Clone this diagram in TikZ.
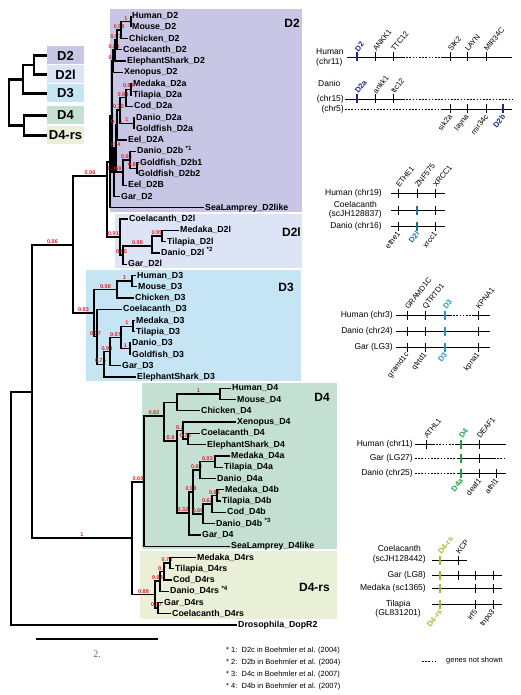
\documentclass[tikz,border=0pt]{standalone}
\usepackage{fontspec}
\setmainfont{Liberation Sans}
\newfontfamily\barfont{Liberation Serif}
\usepackage{tikz}
\usetikzlibrary{positioning, calc}
\definecolor{cladetwo}{RGB}{201,197,228}
\definecolor{cladetwol}{RGB}{221,228,245}
\definecolor{cladethree}{RGB}{197,229,245}
\definecolor{cladefour}{RGB}{196,224,211}
\definecolor{cladefourrs}{RGB}{233,240,215}
\definecolor{supred}{RGB}{228,35,45}
\definecolor{genetwo}{RGB}{30,40,140}
\definecolor{genetwol}{RGB}{25,115,150}
\definecolor{genethree}{RGB}{35,150,205}
\definecolor{genefour}{RGB}{35,160,70}
\definecolor{genefourrs}{RGB}{150,195,45}
\newcommand{\gtick}[3][tk]{\draw[#1] (#2,#3) ++(0,-4.5) -- ++(0,9)}

\begin{document}
\begin{tikzpicture}[x=1pt, y=-1pt,
  every node/.style={font=\fontsize{7.5}{9}\selectfont},
  br/.style={line width=1.3pt},
  leaf/.style={anchor=west, inner sep=1pt, text height=6.4pt, text depth=1.2pt,
              font=\fontsize{8.8}{10}\selectfont\bfseries},
  bs/.style={pos=0.75, above, inner sep=0.6pt, text=supred,
              font=\fontsize{5.5}{6}\selectfont\bfseries},
  cladelab/.style={anchor=east, inner sep=0pt, font=\fontsize{12}{13}\selectfont\bfseries},
  ibox/.style={minimum width=37pt, minimum height=18pt, inner sep=0pt,
              font=\fontsize{13}{14}\selectfont\bfseries},
  ibr/.style={line width=2.2pt},
  chr/.style={line width=0.7pt},
  gap/.style={line width=0.7pt, dash pattern=on 1.6pt off 1.6pt},
  tk/.style={line width=0.6pt},
  hit/.style={line width=1.8pt},
  gtop/.style={rotate=52, anchor=west, inner sep=0.6pt, font=\fontsize{7.6}{8}\selectfont},
  gbot/.style={rotate=52, anchor=east, inner sep=0.6pt, font=\fontsize{7.6}{8}\selectfont},
  rowlab/.style={anchor=east, inner sep=1pt, align=center, font=\fontsize{8.5}{9.5}\selectfont},
  fn/.style={anchor=west, inner sep=0pt, font=\fontsize{7.5}{8}\selectfont},
]
\useasboundingbox (0,0) rectangle (520,695);

% clade boxes
\fill[cladetwo] (110,9) rectangle (302,212);
\fill[cladetwol] (115,213.5) rectangle (302,268);
\fill[cladethree] (86,270) rectangle (301,381);
\fill[cladefour] (142,383) rectangle (337,549);
\fill[cladefourrs] (140,551) rectangle (337,619);
\node[cladelab] at (300,23) {D2};
\node[cladelab] at (301,232) {D2l};
\node[cladelab] at (294,287) {D3};
\node[cladelab] at (330,397) {D4};
\node[cladelab] at (330,587) {D4-rs};

% inset tree of the groups
\node[ibox, fill=cladetwo] (iD2) at (65.5,55.5) {D2};
\node[ibox, fill=cladetwol] (iD2l) at (65.5,74.5) {D2l};
\node[ibox, fill=cladethree] (iD3) at (65.5,93.5) {D3};
\node[ibox, fill=cladefour] (iD4) at (65.5,115.5) {D4};
\node[ibox, fill=cladefourrs] (iD4rs) at (65.5,135.5) {D4-rs};
\coordinate (iB) at (34,65);
\coordinate (iA) at (23,79.5);
\coordinate (iC) at (24,125.5);
\coordinate (iroot) at (9,102.5);
\foreach \p/\c in {iroot/iA, iroot/iC, iA/iB, iA/iD3, iB/iD2, iB/iD2l, iC/iD4, iC/iD4rs}
  \draw[ibr] (\p) |- (\c);

% leaves
\foreach \nm/\txt/\lx [count=\i from 0] in {
  hD2/Human\_D2/131, mD2/Mouse\_D2/131, chD2/Chicken\_D2/128, coD2/Coelacanth\_D2/122,
  esD2/ElephantShark\_D2/126, xeD2/Xenopus\_D2/123, meD2a/Medaka\_D2a/132, tiD2a/Tilapia\_D2a/132,
  cdD2a/Cod\_D2a/133, daD2a/Danio\_D2a/135, goD2a/Goldfish\_D2a/135, eeD2A/Eel\_D2A/127,
  daD2b/Danio\_D2b \textsuperscript{*1}/136, goD2bi/Goldfish\_D2b1/139, goD2bii/Goldfish\_D2b2/137,
  eeD2B/Eel\_D2B/127, gaD2/Gar\_D2/120, slD2/SeaLamprey\_D2like/204,
  coD2l/Coelacanth\_D2l/128, meD2l/Medaka\_D2l/179, tiD2l/Tilapia\_D2l/166,
  daD2l/Danio\_D2l \textsuperscript{*2}/160, gaD2l/Gar\_D2l/127,
  hD3/Human\_D3/136, mD3/Mouse\_D3/137, chD3/Chicken\_D3/134, coD3/Coelacanth\_D3/122,
  meD3/Medaka\_D3/135, tiD3/Tilapia\_D3/135, daD3/Danio\_D3/131, goD3/Goldfish\_D3/131,
  gaD3/Gar\_D3/121, esD3/ElephantShark\_D3/136,
  hD4/Human\_D4/231, mD4/Mouse\_D4/236, chD4/Chicken\_D4/200, xeD4/Xenopus\_D4/236,
  coD4/Coelacanth\_D4/200, esD4/ElephantShark\_D4/206, meD4a/Medaka\_D4a/230, tiD4a/Tilapia\_D4a/223,
  daD4a/Danio\_D4a/216, meD4b/Medaka\_D4b/224, tiD4b/Tilapia\_D4b/221, cdD4b/Cod\_D4b/226,
  daD4b/Danio\_D4b \textsuperscript{*3}/215, gaD4/Gar\_D4/201, slD4/SeaLamprey\_D4like/230,
  meRS/Medaka\_D4rs/196, tiRS/Tilapia\_D4rs/174, cdRS/Cod\_D4rs/172,
  daRS/Danio\_D4rs \textsuperscript{*4}/169, gaRS/Gar\_D4rs/163, coRS/Coelacanth\_D4rs/171,
  dros/Drosophila\_DopR2/237}
  \node[leaf] (\nm) at (\lx,{16+11.28*\i}) {\txt};

% inner nodes
\foreach \nm/\nx/\ny in {
  nroot/11/508, nmain/32/392, ndd/73/245, ntwoall/107/176, ntwo/110/162, ntwog/112/116,
  na1/131/21.7, na2/121/30, na3/117/40, na4/115/50, na5/113/61,
  nb1/131/89.3, nb2/126/97.7, nb3/134/123.2, nb4/120/110, nb5/117/125,
  nb6/137/168.3, nb7/130/160, nb8/123/172, nb9/116/148, nb10/114/172,
  nl1/162/236, nl2/152/246, nl3/123/255, ntwol/120/237,
  nthree/94/313, nc1/132/281, nc2/117/289.5, nc3/133/326.2, nc4/130/348.8,
  nc5/121/337.5, nc6/110/351.6, nc7/104/364.3, nc8/97/336.8,
  nfourall/132/538, nfour/144/482, nd5/164/416, nd1/220/393.9, nd2/177/402.3,
  nd3/188/439, nd4/183/430.5, nd6/177/441,
  ne1/215/461.5, ne2/200/470, ne3/217/495.4, ne4/212/504, ne5/203/514, ne6/193/492, ne7/189/513,
  nrs/155/594.5, nr1/170/563, nr2/164/571.5, nr3/160/581, nr4/158/608}
  \coordinate (\nm) at (\nx,\ny);

% branches with support
\foreach \p/\c/\v in {
  nmain/ndd/0.96, nmain/nfourall/1, ndd/ntwoall/0.96, ndd/nthree/0.83, ntwoall/ntwol/0.91,
  ntwog/na5/0.9, na5/na4/0.59, na4/na3/0.97, na3/na2/0.98, na2/na1/1,
  ntwog/nb10/0.15, nb10/nb9/0.94, nb9/nb5/0.66, nb5/nb4/0.72, nb4/nb2/0.98, nb2/nb1/0.99,
  nb4/nb3/1, nb9/nb8/0.91, nb8/nb7/0.96, nb7/nb6/0.89,
  ntwol/nl3/0.65, nl3/nl2/0.98, nl2/nl1/0.99,
  nthree/nc2/0.98, nc2/nc1/1, nthree/nc8/0.27, nc8/nc7/0.75, nc7/nc6/0.99, nc6/nc5/0.97,
  nc5/nc3/1, nc5/nc4/1,
  nfourall/nfour/0.69, nfour/nd5/0.82, nd5/nd6/0.9, nd6/nd4/0.2, nd4/nd3/0.73, nd2/nd1/1,
  nd6/ne7/0.32, ne7/ne6/0.98, ne6/ne2/0.63, ne2/ne1/0.93, ne6/ne5/0.66, ne5/ne4/0.62, ne4/ne3/0.86,
  nfourall/nrs/0.88, nrs/nr3/0.94, nr3/nr2/0.7, nr2/nr1/0.78, nrs/nr4/0.67}
  \draw[br] (\p) |- node[bs] {\v} (\c);

% branches to leaves
\foreach \p/\c in {
  nroot/nmain, nroot/dros, ntwoall/ntwo, ntwo/ntwog, ntwo/slD2, nd5/nd2,
  na1/hD2, na1/mD2, na2/chD2, na3/coD2, na4/esD2, na5/xeD2, nb1/meD2a, nb1/tiD2a, nb2/cdD2a,
  nb3/daD2a, nb3/goD2a, nb5/eeD2A, nb7/daD2b, nb6/goD2bi, nb6/goD2bii, nb8/eeD2B, nb10/gaD2,
  ntwol/coD2l, nl1/meD2l, nl1/tiD2l, nl2/daD2l, nl3/gaD2l,
  nc1/hD3, nc1/mD3, nc2/chD3, nc8/coD3, nc3/meD3, nc3/tiD3, nc4/daD3, nc4/goD3, nc6/gaD3, nc7/esD3,
  nd1/hD4, nd1/mD4, nd2/chD4, nd4/xeD4, nd3/coD4, nd3/esD4, ne1/meD4a, ne1/tiD4a, ne2/daD4a,
  ne3/meD4b, ne3/tiD4b, ne4/cdD4b, ne5/daD4b, ne7/gaD4, nfour/slD4,
  nr1/meRS, nr1/tiRS, nr2/cdRS, nr3/daRS, nr4/gaRS, nr4/coRS}
  \draw[br] (\p) |- (\c);

% scale bar
\draw[line width=1.2pt] (36,639) -- (158,639);
\node[text=black!60, font=\barfont\fontsize{10}{11}\selectfont] at (97,654) {2.};

% D2 synteny
\node[rowlab, align=left, anchor=west] at (315,57.5) {Human\\(chr11)};
\draw[chr] (347,57) -- (403,57);
\draw[gap] (403,57) -- (441,57);
\draw[chr] (441,57) -- (512,57);
\foreach \gx in {375,393,450,467,486} \gtick{\gx}{57};
\gtick[hit,genetwo]{357}{57};
\foreach \gx/\gn in {357/\textcolor{genetwo}{\textbf{D2}},375/ANKK1,393/TTC12,450/SIK2,467/LAYN,486/MIR34C}
  \node[gtop] at (\gx-1,51) {\gn};
\node[rowlab, anchor=west] at (317,83) {Danio};
\node[rowlab] at (345,99) {(chr15)};
\draw[chr] (345,99) -- (403,99);
\draw[gap] (403,99) -- (512,99);
\foreach \gx in {375,393} \gtick{\gx}{99};
\gtick[hit,genetwo]{357}{99};
\foreach \gx/\gn in {357/\textcolor{genetwo}{\textbf{D2a}},375/ankk1,393/ttc12}
  \node[gtop] at (\gx-1,93) {\gn};
\node[rowlab] at (345,109) {(chr5)};
\draw[gap] (345,109) -- (441,109);
\draw[chr] (441,109) -- (512,109);
\foreach \gx in {450,467,486} \gtick{\gx}{109};
\gtick[hit,genetwo]{503}{109};
\foreach \gx/\gn in {450/sik2a,467/layna,486/mir34c,503/\textcolor{genetwo}{\textbf{D2b}}}
  \node[gbot] at (\gx+1,115) {\gn};

% D2l synteny
\node[rowlab] at (383,193) {Human (chr19)};
\node[rowlab] at (383,210) {Coelacanth\\(scJH128837)};
\node[rowlab] at (383,226) {Danio (chr16)};
\foreach \ry in {193,210,226} {
  \draw[chr] (391,\ry) -- (445,\ry);
  \gtick{398}{\ry};
  \gtick{435}{\ry};
}
\gtick{417}{193};
\gtick[hit,genetwol]{417}{210};
\gtick[hit,genetwol]{417}{226};
\foreach \gx/\gn in {398/ETHE1,417/ZNF575,435/XRCC1}
  \node[gtop] at (\gx-1,187) {\gn};
\foreach \gx/\gn in {398/ethe1,417/\textcolor{genetwol}{\textbf{D2l}},435/xrcc1}
  \node[gbot] at (\gx+1,232) {\gn};

% D3 synteny
\node[rowlab] at (394,315) {Human (chr3)};
\node[rowlab] at (394,331) {Danio (chr24)};
\node[rowlab] at (394,347) {Gar (LG3)};
\draw[chr] (396,315) -- (450,315);
\draw[gap] (450,315) -- (472,315);
\draw[chr] (472,315) -- (490,315);
\draw[chr] (396,331) -- (490,331);
\draw[chr] (396,347) -- (490,347);
\foreach \ry in {315,331,347} {
  \gtick{407}{\ry};
  \gtick{425}{\ry};
  \gtick{478}{\ry};
  \gtick[hit,genethree]{445}{\ry};
}
\foreach \gx/\gn in {407/GRAMD1C,425/QTRTD1,445/\textcolor{genethree}{\textbf{D3}},478/KPNA1}
  \node[gtop] at (\gx-1,309) {\gn};
\foreach \gx/\gn in {407/gramd1c,425/qtrtd1,445/\textcolor{genethree}{\textbf{D3}},478/kpna1}
  \node[gbot] at (\gx+1,353) {\gn};

% D4 synteny
\node[rowlab] at (414,444) {Human (chr11)};
\node[rowlab] at (414,458) {Gar (LG27)};
\node[rowlab] at (414,473) {Danio (chr25)};
\draw[chr] (415,444) -- (433,444);
\draw[gap] (433,444) -- (457,444);
\draw[chr] (457,444) -- (506,444);
\draw[gap] (415,458) -- (457,458);
\draw[chr] (457,458) -- (494,458);
\draw[gap] (494,458) -- (506,458);
\draw[gap] (415,473) -- (457,473);
\draw[chr] (457,473) -- (506,473);
\gtick{426}{444};
\foreach \ry in {444,458,473} {
  \gtick{479}{\ry};
  \gtick[hit,genefour]{461}{\ry};
}
\gtick{496}{473};
\foreach \gx/\gn in {426/ATHL1,461/\textcolor{genefour}{\textbf{D4}},479/DEAF1}
  \node[gtop] at (\gx-1,438) {\gn};
\foreach \gx/\gn in {461/\textcolor{genefour}{\textbf{D4a}},479/deaf1,496/athl1}
  \node[gbot] at (\gx+1,479) {\gn};

% D4-rs synteny
\node[rowlab] at (427,554.5) {Coelacanth\\(scJH128442)};
\node[rowlab] at (427,575) {Gar (LG8)};
\node[rowlab] at (427,588.5) {Medaka (sc1365)};
\node[rowlab] at (422,609) {Tilapia\\(GL831201)};
\draw[chr] (432,560) -- (467,560);
\foreach \ry in {575,588,604} \draw[chr] (432,\ry) -- (502,\ry);
\gtick{458}{560};
\gtick{458}{575};
\foreach \ry in {575,588,604} {
  \gtick{475}{\ry};
  \gtick{493}{\ry};
}
\foreach \ry in {560,575,588,604} \gtick[hit,genefourrs]{440}{\ry};
\foreach \gx/\gn in {440/\textcolor{genefourrs}{\textbf{D4-rs}},458/KCP}
  \node[gtop] at (\gx-1,554) {\gn};
\foreach \gx/\gn in {440/\textcolor{genefourrs}{\textbf{D4-rs}},475/irf5,493/tnpo3}
  \node[gbot] at (\gx+1,610) {\gn};

% footnotes and legend
\node[fn] at (226,651) {* 1:~~D2c in Boehmler et al. (2004)};
\node[fn] at (226,663) {* 2:~~D2b in Boehmler et al. (2004)};
\node[fn] at (226,675) {* 3:~~D4c in Boehmler et al. (2007)};
\node[fn] at (226,687) {* 4:~~D4b in Boehmler et al. (2007)};
\draw[gap] (422,661) -- (437,661);
\node[fn] at (446,661) {genes not shown};
\end{tikzpicture}
\end{document}
